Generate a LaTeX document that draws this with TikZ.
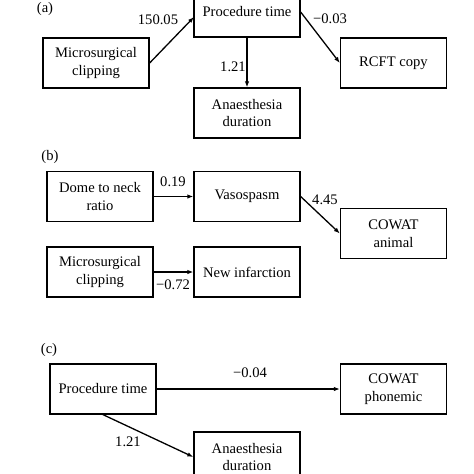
\documentclass[tikz,border=0pt]{standalone}
\usepackage{fontspec}
\setmainfont{Liberation Serif}
\usetikzlibrary{arrows.meta}
\begin{document}
\begin{tikzpicture}[x=1pt,y=-1pt,
  box/.style={draw,line width=1.3pt,rectangle,minimum width=106pt,minimum height=50pt,
    align=center,inner sep=1pt,font=\fontsize{14.6}{17.7}\selectfont},
  lbl/.style={font=\fontsize{14.6}{17}\selectfont,inner sep=0pt},
  arr/.style={line width=1.3pt,-{Latex[length=6pt,width=4.5pt]}}]
\useasboundingbox (0,0) rectangle (474,474);
\begin{scope}
\clip (0,0) rectangle (474,474);
% (a)
\node[lbl] (la) at (45,9) {(a)};
\node[box] (pt1) at (247,12) {Procedure time};
\node[box] (mc1) at (96,63) {Microsurgical\\clipping};
\node[box] (rcft) at (393.5,63) {RCFT copy};
\node[box] (ad1) at (247,113) {Anaesthesia\\duration};
\coordinate (pt1in) at (194,17);
\draw[arr] (mc1.east) -- (pt1in);
\draw[arr] (pt1.east) -- (rcft.west);
\draw[arr] (pt1.south) -- (ad1.north);
\node[lbl] (n1) at (158,20) {150.05};
\node[lbl] (n2) at (330,19) {−0.03};
\node[lbl] (n3) at (233,67) {1.21};
% (b)
\node[lbl] (lb) at (50,157) {(b)};
\node[box] (dome) at (100,196.5) {Dome to neck\\ratio};
\node[box] (vaso) at (247,196.5) {Vasospasm};
\node[box] (cowa) at (393.5,233.5) {COWAT\\animal};
\node[box] (mc2) at (100,272) {Microsurgical\\clipping};
\node[box] (ni) at (247,272) {New infarction};
\draw[arr] (dome.east) -- (vaso.west);
\draw[arr] (vaso.east) -- (cowa.west);
\draw[arr] (mc2.east) -- (ni.west);
\node[lbl] (n4) at (173,182) {0.19};
\node[lbl] (n5) at (325,200) {4.45};
\node[lbl] (n6) at (173,285) {−0.72};
% (c)
\node[lbl] (lc) at (49,350) {(c)};
\node[box] (pt2) at (103,389) {Procedure time};
\node[box] (cowp) at (393.5,389) {COWAT\\phonemic};
\node[box] (ad2) at (247,457) {Anaesthesia\\duration};
\draw[arr] (pt2.east) -- (cowp.west);
\draw[arr] (pt2.south) -- (ad2.west);
\node[lbl] (n7) at (250,373) {−0.04};
\node[lbl] (n8) at (128,442) {1.21};
\end{scope}
\end{tikzpicture}
\end{document}
